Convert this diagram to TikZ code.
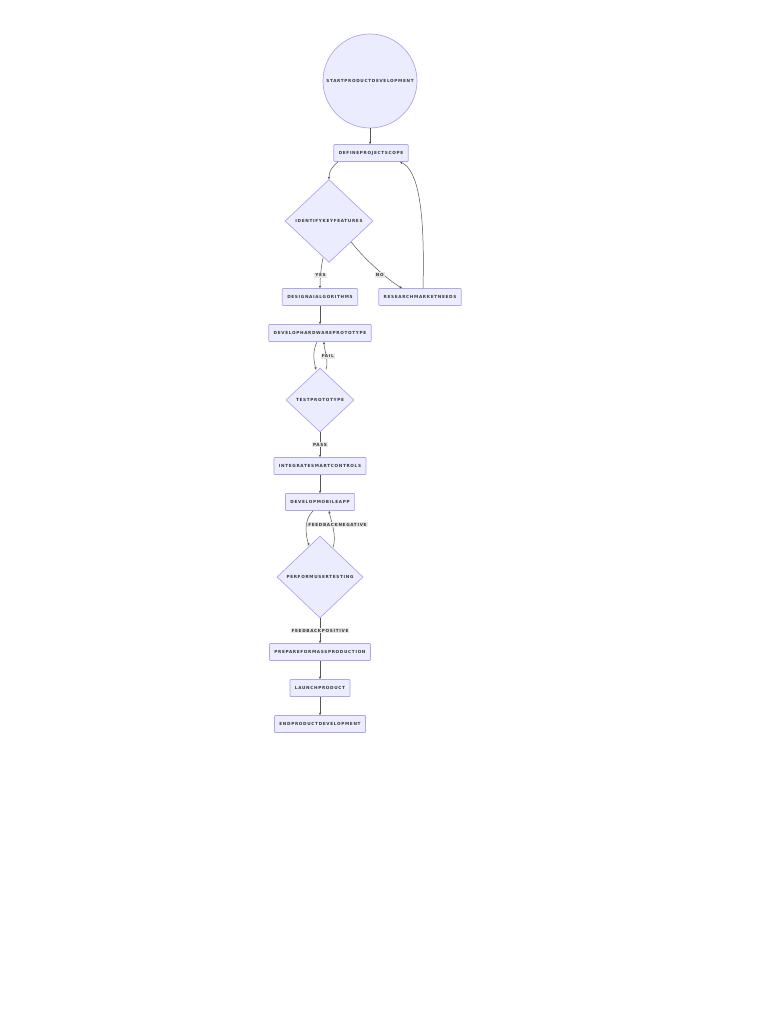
\documentclass[tikz,border=0pt]{standalone}
\usepackage{fontspec}
\newfontfamily\lblfont[LetterSpace=16]{DejaVu Sans Bold}
\usetikzlibrary{shapes.geometric,arrows.meta}
\definecolor{nodefill}{HTML}{ECECFF}
\definecolor{nodeline}{HTML}{B4A4EA}
\definecolor{edgecol}{HTML}{555555}
\definecolor{textcol}{HTML}{3A3A3A}
\definecolor{lblbg}{HTML}{E8E8E8}
\begin{document}
\begin{tikzpicture}[x=1pt,y=-1pt,
  lbl/.style={font=\lblfont\fontsize{4.2}{5}\selectfont, text=textcol},
  box/.style={lbl, rectangle, draw=nodeline, fill=nodefill, line width=0.7pt,
    minimum height=17pt, inner xsep=5pt, inner ysep=0pt, rounded corners=0.8pt},
  dia/.style={lbl, diamond, draw=nodeline, fill=nodefill, line width=0.7pt, inner sep=0pt},
  circ/.style={lbl, circle, draw=nodeline, fill=nodefill, line width=0.7pt, inner sep=0pt},
  edge/.style={draw=edgecol, line width=0.5pt, -{Stealth[length=2.6pt,width=2.4pt]}},
  elabel/.style={lbl, fill=lblbg, inner sep=1pt}]
\fill[white] (0,0) rectangle (768,1024);
\useasboundingbox (0,0) rectangle (768,1024);

\node[circ, minimum size=94pt] (start) at (370,81) {STARTPRODUCTDEVELOPMENT};
\node[box] (define) at (371,153) {DEFINEPROJECTSCOPE};
\node[dia, minimum width=88pt, minimum height=83pt] (identify) at (329,221) {IDENTIFYKEYFEATURES};
\node[box] (design) at (320,297) {DESIGNAIALGORITHMS};
\node[box] (research) at (420,297) {RESEARCHMARKETNEEDS};
\node[box] (hardware) at (320,333) {DEVELOPHARDWAREPROTOTYPE};
\node[dia, minimum width=68pt, minimum height=64pt] (test) at (320,400) {TESTPROTOTYPE};
\node[box] (integrate) at (320,466) {INTEGRATESMARTCONTROLS};
\node[box] (mobile) at (320,502) {DEVELOPMOBILEAPP};
\node[dia, minimum width=86pt, minimum height=82pt] (perform) at (320,577) {PERFORMUSERTESTING};
\node[box] (prepare) at (320,652) {PREPAREFORMASSPRODUCTION};
\node[box] (launch) at (320,688) {LAUNCHPRODUCT};
\node[box] (endn) at (320,724) {ENDPRODUCTDEVELOPMENT};

\draw[edge] (start) -- (define.north -| start);
\draw[edge] ([xshift=-33pt]define.south) .. controls +(-6,5) and +(0,-8) .. (identify.north);
\draw[edge] ([xshift=-6pt,yshift=5pt]identify.south) .. controls +(-2,10) and +(0,-10) .. (design.north)
  node[elabel, pos=0.58] (yes) {YES};
\draw[edge] (identify.south east) .. controls +(12,16) and +(-14,-8) .. ([xshift=-18pt]research.north)
  node[elabel, pos=0.64, xshift=-4pt] (no) {NO};
\draw[edge] ([xshift=3pt]research.north) .. controls +(2,-80) and +(18,8) .. ([xshift=29pt]define.south);
\draw[edge] (design) -- (hardware);
\draw[edge] ([xshift=-3pt]hardware.south) .. controls +(-5,10) and +(-2,-8) .. ([xshift=-4pt,yshift=-2pt]test.north);
\draw[edge] ([xshift=6pt,yshift=-2pt]test.north) .. controls +(3,-10) and +(0,8) .. ([xshift=4pt]hardware.south)
  node[elabel, pos=0.45, xshift=1.5pt] (fail) {FAIL};
\draw[edge] (test) -- (integrate) node[elabel, pos=0.5] (pass) {PASS};
\draw[edge] (integrate) -- (mobile);
\draw[edge] ([xshift=-7pt]mobile.south) .. controls +(-10,10) and +(-3,-10) .. ([xshift=-11pt,yshift=-10pt]perform.north);
\draw[edge] ([xshift=13pt,yshift=-12pt]perform.north) .. controls +(4,-12) and +(2,10) .. ([xshift=9pt]mobile.south)
  node[elabel, pos=0.6, xshift=5pt] (fneg) {FEEDBACKNEGATIVE};
\draw[edge] (perform) -- (prepare) node[elabel, pos=0.5] (fpos) {FEEDBACKPOSITIVE};
\draw[edge] (prepare) -- (launch);
\draw[edge] (launch) -- (endn);
\end{tikzpicture}
\end{document}
